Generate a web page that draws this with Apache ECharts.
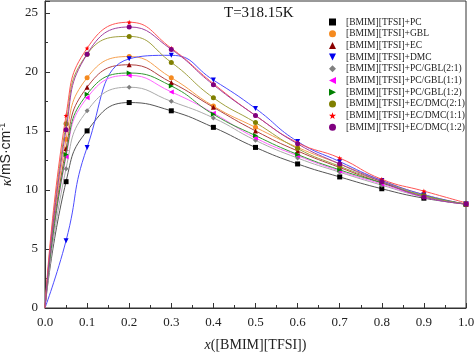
<!DOCTYPE html>
<html>
<head>
<meta charset="utf-8">
<script src="https://cdn.jsdelivr.net/npm/echarts@6/dist/echarts.min.js"></script>
<style>
    html, body { margin: 0; padding: 0; background: #fff; }
    #chart { width: 474px; height: 354px; }
</style>
</head>
<body>
<div id="chart"></div>
<script>
// mole fraction of [BMIM][TFSI]
var xValues = [0, 0.05, 0.1, 0.2, 0.3, 0.4, 0.5, 0.6, 0.7, 0.8, 0.9, 1.0];

var seriesNames = [
    '[BMIM][TFSI]+PC',
    '[BMIM][TFSI]+GBL',
    '[BMIM][TFSI]+EC',
    '[BMIM][TFSI]+DMC',
    '[BMIM][TFSI]+PC/GBL(2:1)',
    '[BMIM][TFSI]+PC/GBL(1:1)',
    '[BMIM][TFSI]+PC/GBL(1:2)',
    '[BMIM][TFSI]+EC/DMC(2:1)',
    '[BMIM][TFSI]+EC/DMC(1:1)',
    '[BMIM][TFSI]+EC/DMC(1:2)'
];

// conductivity, mS/cm
var kPC       = [0, 10.7, 15.0, 17.4, 16.7, 15.3, 13.6, 12.2, 11.1, 10.1, 9.3, 8.8];
var kGBL      = [0, 14.3, 19.5, 21.3, 19.5, 17.1, 15.3, 13.6, 12.2, 10.8, 9.6, 8.8];
var kEC       = [0, 13.5, 18.7, 20.6, 19.1, 17.0, 15.0, 13.3, 11.9, 10.6, 9.5, 8.8];
var kDMC      = [0, 5.7, 13.6, 21.1, 21.4, 19.3, 16.9, 14.1, 12.4, 10.8, 9.6, 8.8];
var kPCGBL21  = [0, 11.8, 16.7, 18.7, 17.5, 16.1, 14.2, 12.7, 11.5, 10.4, 9.4, 8.8];
var kPCGBL11  = [0, 12.8, 17.8, 19.7, 18.3, 16.5, 14.4, 12.9, 11.6, 10.5, 9.4, 8.8];
var kPCGBL12  = [0, 13.0, 18.1, 19.9, 18.8, 16.4, 14.6, 13.0, 11.7, 10.6, 9.5, 8.8];
var kECDMC21  = [0, 15.6, 21.5, 23.0, 20.8, 17.8, 15.7, 13.5, 12.0, 10.7, 9.5, 8.8];
var kECDMC11  = [0, 16.3, 22.0, 24.2, 22.0, 19.0, 16.3, 14.0, 12.7, 10.9, 9.9, 8.9];
var kECDMC12  = [0, 15.1, 21.5, 23.8, 21.9, 18.9, 16.3, 13.9, 12.2, 10.7, 9.4, 8.8];

var allValues = [kPC, kGBL, kEC, kDMC, kPCGBL21, kPCGBL11, kPCGBL12, kECDMC21, kECDMC11, kECDMC12];

var markerColors = ['#000000', '#f58a1f', '#8b0000', '#0000ee', '#808080', '#ff00ff', '#008000', '#808000', '#ff0000', '#800080'];
var lineColors   = ['#555555', '#f5a050', '#b04040', '#4d4dff', '#aaaaaa', '#ff66ff', '#339933', '#a0a040', '#ff5555', '#a040a0'];

var STAR = 'path://M5,0L6.2,3.5L10,3.6L7,5.9L8.1,9.5L5,7.4L1.9,9.5L3,5.9L0,3.6L3.8,3.5Z';
var TRI_DOWN = 'path://M0,0L10,0L5,10Z';
var TRI_LEFT = 'path://M10,0L10,10L0,5Z';
var TRI_RIGHT = 'path://M0,0L0,10L10,5Z';
var symbols = ['rect', 'circle', 'triangle', TRI_DOWN, 'diamond', TRI_LEFT, TRI_RIGHT, 'circle', STAR, 'circle'];

var serif = '"Liberation Serif", "DejaVu Serif", serif';

var chartDom = document.getElementById('chart');
var myChart = echarts.init(chartDom);

var series = seriesNames.map(function(name, i) {
    var vals = allValues[i];
    return {
        name: name,
        type: 'line',
        smooth: 0.5,
        symbol: symbols[i],
        symbolSize: 5,
        itemStyle: { color: markerColors[i] },
        lineStyle: { color: lineColors[i], width: 1 },
        z: 2 + i,
        data: xValues.map(function(x, j) {
            if (j === 0) return { value: [x, vals[j]], symbol: 'none' };
            return [x, vals[j]];
        })
    };
});

var option = {
    animation: false,
    textStyle: { fontFamily: serif },
    grid: {
        left: 45,
        right: 8,
        top: 1,
        bottom: 46,
        outerBoundsMode: 'none',
        containLabel: false,
        show: true,
        borderColor: '#333',
        borderWidth: 1
    },
    legend: {
        orient: 'vertical',
        left: 329,
        top: 17,
        padding: 0,
        itemWidth: 7,
        itemHeight: 7,
        itemGap: 1.7,
        data: seriesNames.map(function(name, i) {
            return { name: name, icon: symbols[i] };
        }),
        textStyle: { fontFamily: serif, fontSize: 9.5, lineHeight: 10, color: '#222', padding: [0, 0, 0, 5] }
    },
    xAxis: {
        type: 'value',
        min: 0,
        max: 1,
        interval: 0.1,
        name: '{i|x}([BMIM][TFSI])',
        nameLocation: 'middle',
        nameGap: 30,
        nameTextStyle: {
            fontFamily: serif,
            fontSize: 14,
            color: '#222',
            rich: { i: { fontFamily: serif, fontStyle: 'italic', fontSize: 14, color: '#222' } }
        },
        axisLine: { lineStyle: { color: '#333' } },
        axisTick: { inside: true, length: 5, lineStyle: { color: '#333' } },
        minorTick: { show: true, splitNumber: 2, length: 3, lineStyle: { color: '#333' } },
        splitLine: { show: false },
        axisLabel: {
            fontFamily: serif,
            fontSize: 13,
            color: '#222',
            margin: 8,
            formatter: function(v) { return v.toFixed(1); }
        }
    },
    yAxis: {
        type: 'value',
        min: 0,
        max: 26,
        interval: 5,
        name: '{i|κ}/mS·cm{s|-1}',
        nameLocation: 'middle',
        nameGap: 26,
        nameTextStyle: {
            fontFamily: 'Arial, "Liberation Sans", sans-serif',
            fontSize: 14,
            color: '#222',
            rich: {
                i: { fontFamily: serif, fontStyle: 'italic', fontSize: 15, color: '#222' },
                s: { fontSize: 9, verticalAlign: 'top', padding: [0, 0, 8, 0], color: '#222' }
            }
        },
        axisLine: { show: true, lineStyle: { color: '#333' } },
        axisTick: { inside: true, length: 5, lineStyle: { color: '#333' } },
        minorTick: { show: true, splitNumber: 2, length: 3, lineStyle: { color: '#333' } },
        splitLine: { show: false },
        axisLabel: {
            fontFamily: serif,
            fontSize: 13,
            color: '#222',
            margin: 7,
            formatter: function(v) { return v % 5 === 0 ? String(v) : ''; }
        }
    },
    graphic: [{
        type: 'text',
        left: 224,
        top: 6,
        style: {
            text: 'T=318.15K',
            fontFamily: serif,
            fontSize: 15,
            fill: '#111'
        }
    }],
    series: series
};

myChart.setOption(option);

window.addEventListener('resize', function() {
    myChart.resize();
});
</script>
</body>
</html>
